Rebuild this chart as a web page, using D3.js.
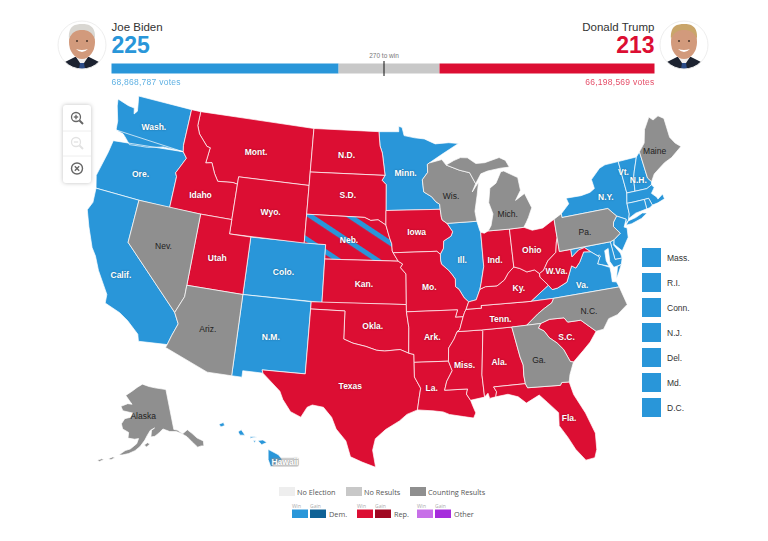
<!DOCTYPE html>
<html>
<head>
<meta charset="utf-8">
<script src="https://cdn.jsdelivr.net/npm/d3@7"></script>
<style>
  html, body { margin: 0; padding: 0; background: #fff; }
  text { font-family: "Liberation Sans", Arial, sans-serif; }
</style>
</head>
<body>
<div id="vis"></div>
<script>
// Electoral race values
const candidates = ["Joe Biden", "Donald Trump"];
const electoralVotes = [225, 213];
const popularVotes = ["68,868,787 votes", "66,198,569 votes"];
const totalVotes = 538;
const toWin = 270;

// Who holds each state
const demStates = ["WA", "OR", "CA", "CO", "NM", "MN", "IL", "NY", "VT", "NH", "MA", "RI", "CT", "NJ", "DE", "MD", "DC", "VA", "HI"];
const repStates = ["MT", "ID", "WY", "UT", "ND", "SD", "NE", "KS", "OK", "TX", "IA", "MO", "AR", "LA", "MS", "AL", "TN", "KY", "IN", "OH", "WV", "SC", "FL"];
const countingStates = ["NV", "AZ", "WI", "MI", "PA", "NC", "GA", "AK", "ME"];
const sideStates = ["Mass.", "R.I.", "Conn.", "N.J.", "Del.", "Md.", "D.C."];

// Map labels: abbreviation, lon, lat
const labelNames = ["Wash.", "Ore.", "Calif.", "Nev.", "Idaho", "Mont.", "Wyo.", "Utah", "Ariz.", "Colo.", "N.M.", "N.D.", "S.D.", "Neb.", "Kan.", "Okla.", "Texas", "Minn.", "Iowa", "Mo.", "Ark.", "La.", "Wis.", "Ill.", "Mich.", "Ind.", "Ohio", "Ky.", "Tenn.", "Miss.", "Ala.", "Ga.", "Fla.", "S.C.", "N.C.", "Va.", "W.Va.", "Pa.", "N.Y.", "Vt.", "N.H.", "Maine", "Alaska", "Hawaii"];
const labelLons = [-120.4, -120.5, -119.9, -116.8, -114.4, -109.7, -107.5, -111.8, -111.6, -105.7, -106.2, -100.5, -100.2, -99.9, -98.4, -97.55, -99.3, -94.5, -93.55, -92.55, -92.45, -92.65, -90.1, -89.45, -84.8, -86.45, -83.0, -84.6, -86.5, -89.85, -86.95, -83.65, -81.9, -81.1, -78.85, -79.0, -81.05, -77.9, -75.3, -73.1, -71.9, -69.6, -155.5, -154.6];
const labelLats = [47.2, 43.8, 36.7, 39.3, 43.3, 46.9, 42.9, 39.2, 34.3, 38.9, 34.3, 47.3, 44.5, 41.4, 38.4, 35.5, 31.3, 46.1, 42.0, 38.2, 34.7, 31.2, 44.4, 39.9, 42.8, 39.7, 40.1, 37.6, 35.6, 32.65, 32.7, 32.5, 28.2, 33.8, 35.3, 37.2, 38.45, 40.7, 42.8, 44.2, 43.4, 45.1, 64.0, 19.3];
const darkLabels = ["Nev.", "Ariz.", "Wis.", "Mich.", "Ga.", "N.C.", "Pa.", "Maine", "Alaska"];

// Legend entries
const statusNames = ["No Election", "No Results", "Counting Results"];
const statusColors = ["#eeeeee", "#c8c8c8", "#8f8f8f"];
const partyNames = ["Dem.", "Rep.", "Other"];
const winColors = ["#2996d9", "#dc0e33", "#c76fe8"];
const gainColors = ["#0f6296", "#a00822", "#a52cdc"];

// Shared borders, flat lon,lat lists
const columbia = [-116.92,45.99, -118.98,46.0, -119.3,45.93, -120.5,45.7, -121.2,45.65, -122.3,45.55, -122.8,45.9, -123.2,46.15, -124.0,46.27];
const snake = [-117.03,42, -117.03,43.8, -117.03,44.2, -117.2,44.45, -116.85,45.0, -116.47,45.6, -116.92,45.99];
const bitterroot = [-116.05,49, -116.05,48.0, -115.7,47.45, -114.7,46.7, -114.35,46.65, -114.5,45.55, -113.9,45.65, -113.45,44.95, -113.0,44.45, -111.5,44.55, -111.05,44.48];
const missouriNE = [-98.5,43, -97.9,42.8, -97.2,42.85, -96.45,42.49, -96.1,41.6, -95.9,41.2, -95.85,40.7, -95.77,40.58, -95.31,40];
const missouriKS = [-95.31,40, -94.9,39.8, -95.1,39.55, -94.61,39.11, -94.62,37];
const redRiver = [-100,34.56, -99.2,34.3, -98.1,34.1, -97.2,33.85, -96.5,33.8, -95.2,33.9, -94.48,33.64];
const stCroix = [-92.1,46.75, -92.29,46.66, -92.29,46.1, -92.85,45.6, -92.75,44.75, -92.0,44.4, -91.6,44.03, -91.25,43.85, -91.22,43.5];
const missIAWI = [-91.22,43.5, -91.15,42.95, -91.08,42.75, -90.64,42.5];
const missIAIL = [-90.64,42.5, -90.16,41.9, -90.34,41.6, -91.05,41.3, -91.1,40.8, -91.42,40.4];
const missMOIL = [-91.42,40.4, -91.42,39.93, -91.35,39.7, -90.73,39.25, -90.45,38.96, -90.18,38.63, -90.2,38.1, -89.9,37.9, -89.5,37.3, -89.13,37];
const missTN = [-89.4,36.5, -89.55,36.3, -89.7,36, -90.07,35.13, -90.3,35];
const missARMS = [-90.3,35, -90.6,34.5, -91.1,33.9, -91.17,33];
const missLAMS = [-91.17,33, -90.9,32.33, -91.4,31.6, -91.6,31, -89.73,31, -89.85,30.65, -89.55,30.2];
const ohioRiver = [-80.52,40.64, -80.65,40.4, -80.85,39.7, -81.7,39.2, -82.2,38.6, -82.6,38.42, -83.0,38.72, -83.7,38.65, -84.3,38.95, -84.82,39.1, -85.4,38.72, -85.8,38.28, -86.5,37.93, -87.55,37.95, -88.05,37.8];
const wabash = [-87.53,39.35, -87.9,38.2, -88.05,37.8, -88.45,37.1, -89.13,37];
const alGa = [-85.6,35, -85.18,32.87, -85,32.3, -85.05,31.55, -85,31];
const savannah = [-83.11,35, -83.35,34.7, -82.9,34.45, -82.55,33.95, -81.95,33.5, -81.5,33, -81.1,32.1, -80.85,32.03];
const ncSc = [-83.11,35, -82.3,35.2, -81.05,35.15, -80.8,34.82, -79.67,34.8, -78.55,33.86];
const tnNc = [-81.68,36.59, -81.9,36.3, -82.6,36, -83.2,35.7, -84.32,35];
const wvVa = [-77.72,39.32, -78.35,39.4, -78.87,38.75, -79.3,38.4, -79.65,38.6, -80.3,37.55, -81.2,37.25, -81.68,37.2, -81.97,37.54];
const potomac = [-77.0,38.3, -77.32,38.4, -77.04,38.79, -77.1,38.9, -77.72,39.32];
const northPotomac = [-77.72,39.32, -78.2,39.68, -78.75,39.6, -79.48,39.2, -79.48,39.72];
const delaware = [-75.35,42, -74.7,41.36, -75.1,41, -75.2,40.7, -74.72,40.15, -75.42,39.8];
const wiMi = [-90.4,46.55, -89.1,46.13, -88.1,45.9, -87.6,45.1];

const rev = a => { const out = []; for (let i = a.length - 2; i >= 0; i -= 2) out.push(a[i], a[i + 1]); return out; };

// State outlines (lon,lat), one list per ring
const stateRings = {
  WA: [[-122.76,49, -117.03,49, -117.04,46.42, ...columbia, -124.1,46.9, -124.6,47.9, -124.73,48.38, -123.5,48.15, -122.85,48.1, -122.7,47.7, -122.45,47.95, -122.6,48.5]],
  OR: [[...rev(columbia), -123.95,45.5, -124.1,44.6, -124.55,42.85, -124.21,42, -120,42, ...snake]],
  ID: [[-117.03,49, ...bitterroot, -111.05,42, -114.04,42, ...snake, -117.04,46.42]],
  MT: [[...bitterroot.slice(0, 2), -104.05,49, -104.05,45, -111.05,45, ...rev(bitterroot).slice(0, -2)]],
  WY: [[-111.05,45, -104.05,45, -104.05,41, -111.05,41]],
  UT: [[-114.04,42, -111.05,42, -111.05,41, -109.05,41, -109.05,37, -114.05,37]],
  CO: [[-109.05,41, -102.05,41, -102.05,37, -109.05,37]],
  NM: [[-109.05,37, -103,37, -103.05,32, -106.62,32, -106.53,31.78, -108.2,31.78, -108.2,31.33, -109.05,31.33]],
  AZ: [[-114.05,37, -109.05,37, -109.05,31.33, -111.07,31.33, -114.81,32.5, -114.72,32.72, -114.5,33.4, -114.15,34.27, -114.63,35, -114.05,36.2]],
  NV: [[-120,42, -114.04,42, -114.05,37, -114.05,36.2, -114.63,35, -120,39]],
  CA: [[-124.21,42, -120,42, -120,39, -114.63,35, -114.15,34.27, -114.5,33.4, -114.72,32.72, -117.12,32.53, -117.3,33, -118.4,33.75, -119.2,34.15, -120.6,34.55, -120.65,35.15, -121.9,36.6, -122.5,37.5, -123,38, -123.8,39.3, -124.4,40.4, -124.1,41]],
  ND: [[-104.05,49, -97.23,49, -97.1,48, -96.85,47.5, -96.56,45.94, -104.05,45.94]],
  SD: [[-104.05,45.94, -96.56,45.94, -96.85,45.6, -96.45,45.3, -96.45,43.5, -96.45,42.49, -97.2,42.85, -97.9,42.8, -98.5,43, -104.05,43]],
  NE: [[-104.05,43, ...missouriNE, -102.05,40, -102.05,41, -104.05,41]],
  KS: [[-102.05,40, ...missouriKS, -102.05,37]],
  OK: [[-103,37, -94.62,37, -94.62,36.5, -94.43,35.4, ...rev(redRiver), -100,36.5, -103,36.5]],
  TX: [[-103,36.5, -100,36.5, ...redRiver, -94.04,33.55, -94.04,33, -94.04,31.99, -93.55,31.2, -93.7,30.5, -93.85,29.7, -94.7,29.4, -95.3,28.95, -96.4,28.35, -97.2,27.7, -97.4,26.9, -97.15,25.7, -98.2,26.05, -99.1,26.4, -99.5,27.5, -100.3,28.3, -100.7,29.1, -101.4,29.77, -102.3,29.88, -102.7,29.7, -103.15,28.98, -104,29.3, -104.7,30.1, -105,30.65, -106.53,31.78, -106.62,32, -103.05,32]],
  MN: [[-97.23,49, -95.15,49, -95.15,49.38, -94.8,49.3, -94.6,48.72, -93.5,48.55, -92.5,48.45, -91.4,48.07, -90,48.1, -89.0,48, -90.8,47.3, ...stCroix, -96.45,43.5, -96.45,45.3, -96.85,45.6, -96.56,45.94, -96.85,47.5, -97.1,48]],
  IA: [[-96.45,43.5, ...missIAWI, ...missIAIL, -91.73,40.61, -95.77,40.58, -95.85,40.7, -95.9,41.2, -96.1,41.6, -96.45,42.49]],
  MO: [[-95.77,40.58, -91.73,40.61, ...missMOIL, ...missTN.slice(0, 6), -90.37,36, -90.15,36.5, -94.62,36.5, ...rev(missouriKS)]],
  AR: [[-94.62,36.5, -90.15,36.5, -90.37,36, -89.7,36, -90.07,35.13, ...missARMS, -94.04,33, -94.04,33.55, -94.48,33.64, -94.43,35.4]],
  LA: [[-94.04,33, ...missLAMS, -89.4,29.8, -89.2,29.3, -89.4,28.95, -90.2,29.1, -91.3,29.3, -91.8,29.5, -92.6,29.6, -93.85,29.7, -93.7,30.5, -93.55,31.2, -94.04,31.99]],
  MS: [[-90.3,35, -88.2,35, -88.1,34.9, -88.47,31.9, -88.4,30.35, ...rev(missLAMS), ...rev(missARMS).slice(2)]],
  AL: [[-88.2,35, ...alGa, -87.6,31, -87.4,30.65, -87.5,30.3, -88,30.23, -88.1,30.6, -88.4,30.35, -88.47,31.9, -88.1,34.9]],
  GA: [[...alGa.slice(0, 2), ...savannah, -81.3,31.2, -81.45,30.71, -82.05,30.75, -82.2,30.57, -84.86,30.7, ...rev(alGa)]],
  FL: [[-87.6,31, -85,31, -84.86,30.7, -82.2,30.57, -82.05,30.75, -81.45,30.71, -81.25,29.8, -80.55,28.4, -80.05,26.9, -80.15,25.75, -80.4,25.2, -81.1,25.13, -81.75,26, -82.2,26.9, -82.75,27.8, -82.65,28.7, -83.4,29.5, -84,30.1, -85.1,29.65, -85.7,30.15, -86.5,30.4, -87.5,30.3, -87.4,30.65]],
  SC: [[...ncSc, -79.2,33.2, -79.9,32.7, ...rev(savannah).slice(0, -2)]],
  NC: [[-84.32,35, ...ncSc, -77.9,33.9, -77.3,34.55, -76.5,34.7, -75.5,35.25, -75.85,36.55, ...tnNc]],
  TN: [[...missTN.slice(0, 2), -88.05,36.5, -88.07,36.68, -83.68,36.6, ...tnNc, -85.6,35, -88.2,35, ...rev(missTN).slice(0, -2)]],
  KY: [[-82.6,38.42, -83,38.72, -83.7,38.65, -84.3,38.95, -84.82,39.1, -85.4,38.72, -85.8,38.28, -86.5,37.93, -87.55,37.95, -88.05,37.8, -88.45,37.1, -89.13,37, -89.4,36.5, -88.05,36.5, -88.07,36.68, -83.68,36.6, -81.97,37.54, -82.6,38.17]],
  VA: [[-83.68,36.6, -81.68,36.59, -75.85,36.55, -76,36.93, -76.35,37, -76.3,37.6, -76.3,38, ...potomac, ...wvVa],
       [-75.95,37.12, -75.6,37.55, -75.25,38.03, -75.62,37.95]],
  WV: [[-80.52,40.64, -80.52,39.72, -79.48,39.72, ...rev(northPotomac).slice(2), ...wvVa.slice(2), -82.6,38.17, -82.6,38.42, -82.2,38.6, -81.7,39.2, -80.85,39.7, -80.65,40.4]],
  MD: [[-79.48,39.72, -75.79,39.72, -75.7,38.46, -75.05,38.45, -75.25,38.03, -75.95,37.95, -76.2,38.4, -76.1,39.3, -76.45,39.2, -76.5,38.5, -76.35,38.1, ...potomac, ...northPotomac.slice(2, -2)]],
  DE: [[-75.79,39.72, -75.42,39.8, -75.55,39.45, -75.1,38.8, -75.05,38.45, -75.7,38.46]],
  DC: [[-77.12,38.93, -77.04,39, -76.91,38.89, -77.04,38.79]],
  PA: [[-80.52,41.98, -79.76,42.27, -79.76,42, ...delaware, -75.79,39.72, -80.52,39.72]],
  NJ: [[-74.7,41.36, -73.9,41, -74.25,40.5, -74,40.4, -74.1,39.75, -74.9,38.93, -75.5,39.5, -75.42,39.8, -74.72,40.15, -75.2,40.7, -75.1,41]],
  NY: [[-79.76,42.27, -79.76,42, -75.35,42, -74.7,41.36, -73.9,41, -74,40.7, -73.75,40.88, -73.65,41, -73.5,41.3, -73.48,42.05, -73.26,42.75, -73.35,45.01, -74.7,45, -75.3,44.85, -76.3,44.2, -76.2,43.55, -76.7,43.35, -77.6,43.25, -79.05,43.27, -78.9,42.85],
       [-74.03,40.6, -73.75,40.85, -73,40.95, -72.3,41.15, -71.87,41.07, -72.5,40.8, -73.5,40.6]],
  CT: [[-73.65,41, -73.5,41.3, -73.48,42.05, -72.8,42.03, -71.8,42.02, -71.8,41.35, -72.9,41.25]],
  RI: [[-71.8,42.02, -71.38,42.02, -71.2,41.5, -71.5,41.37, -71.8,41.35]],
  MA: [[-73.48,42.05, -73.26,42.75, -72.46,42.73, -71.3,42.7, -70.8,42.87, -70.6,42.65, -71,42.3, -70.6,41.95, -70.55,41.8, -70,42.05, -69.95,41.7, -70.65,41.55, -71.2,41.5, -71.38,42.02, -71.8,42.02, -72.8,42.03]],
  VT: [[-73.26,42.75, -72.46,42.73, -72.3,43.6, -72.05,44.1, -71.5,45.01, -73.35,45.01]],
  NH: [[-72.46,42.73, -71.3,42.7, -70.8,42.87, -70.7,43.08, -70.98,43.4, -71.08,45.3, -71.5,45.01, -72.05,44.1, -72.3,43.6]],
  ME: [[-70.7,43.08, -70.98,43.4, -71.08,45.3, -70.4,45.8, -70,46.7, -69.23,47.46, -68.9,47.18, -68.3,47.36, -67.8,47.07, -67.8,45.7, -67.45,45.2, -67,44.85, -68.2,44.3, -69,44.1, -69.8,43.75, -70.25,43.55]],
  OH: [[-84.82,39.1, -84.81,41.73, -83.45,41.73, -82.7,41.45, -81.7,41.5, -80.52,41.98, ...ohioRiver.slice(0, 20)]],
  IN: [[-87.53,41.72, -87.2,41.63, -86.82,41.76, -84.81,41.73, ...ohioRiver.slice(18), ...rev(wabash).slice(4)]],
  IL: [[-90.64,42.5, -87.8,42.5, -87.6,41.85, -87.53,41.72, ...wabash, ...rev(missMOIL).slice(2), ...rev(missIAIL).slice(2, -2)]],
  WI: [[-92.1,46.75, -90.8,46.95, ...wiMi, -88,44.55, -87.3,45.2, -87.55,44.3, -87.9,43.2, -87.8,42.5, -90.64,42.5, ...rev(missIAWI).slice(2), ...rev(stCroix).slice(2)]],
  MI: [[-86.82,41.76, -86.5,42.1, -86.2,42.9, -86.5,43.7, -86.25,44.7, -85.6,45, -85,45.75, -84.7,45.78, -83.4,45.2, -83.3,44.3, -83.9,43.65, -82.95,44.05, -82.45,43, -82.9,42.35, -83.15,42.05, -83.45,41.73, -84.81,41.73],
       [...wiMi, -87,45.75, -86.3,45.9, -85,46, -84.1,46, -84.4,46.5, -85,46.75, -86.5,46.5, -87.4,46.5, -88.2,46.95, -88.9,47, -89.6,46.83]],
  AK: [[-141,69.65, -141,60.3, -139.5,60, -137.5,58.9, -135,59.5, -133.5,58.4, -132,57, -130,55.9, -130.5,54.8, -131.5,55, -133,55, -134.5,56.5, -136,58, -138,59, -140,59.7, -143,60, -146,60.8, -148,60, -150,59.3, -151.8,59.2, -151.4,60.7, -149.9,61.2, -152,60.7, -153.5,59.5, -154.5,58.5, -156.5,57, -158.5,56, -161,55.2, -163.5,54.7, -164.8,54.6, -162.5,55.8, -160.5,56.3, -158,57.6, -157.3,58.8, -159,58.6, -162,58.7, -162,60, -165,60.6, -166,61.7, -164.8,63, -162,63.5, -161,64.5, -163,64.6, -166.5,64.7, -168,65.6, -164.5,66.5, -162,66.5, -163.5,67.1, -166.5,68.3, -163,69.5, -160,70.5, -156.5,71.35, -152,70.8, -148,70.4, -144,70],
       [-154.7,57.4, -153.4,57.9, -152.3,57.6, -153.8,56.9],
       [-168.5,53.3, -167,53.9, -166,53.8, -167.5,53.2],
       [-172.5,52.3, -171,52.9, -170,52.9, -171.5,52.2]],
  HI: [[-155.9,20.25, -155.1,19.85, -154.8,19.5, -155.7,18.95, -155.9,19.5],
       [-156.7,20.9, -156.3,20.95, -156,20.75, -156.4,20.6],
       [-158.25,21.55, -158,21.7, -157.7,21.3, -158.1,21.3],
       [-159.75,22.1, -159.4,22.23, -159.3,22, -159.6,21.9],
       [-157.3,21.2, -156.75,21.17, -157.3,21.08],
       [-157.05,20.9, -156.85,20.88, -156.95,20.73]]
};

const width = 768, height = 541;
const BLUE = "#2996d9", RED = "#dc0e33", GREY = "#8f8f8f", BAR_GREY = "#c8c8c8";

const svg = d3.select("#vis").append("svg")
  .attr("viewBox", [0, 0, width, height])
  .attr("width", width)
  .attr("height", height)
  .style("display", "block");

// Projections
const lower48 = d3.geoAlbers().scale(823).translate([384, 280]);
const alaska = d3.geoConicEqualArea().rotate([154, 0]).center([0, 64]).parallels([55, 65]).scale(250).translate([146, 416]);
const hawaii = d3.geoConicEqualArea().rotate([157, 0]).center([0, 20.5]).parallels([8, 18]).scale(780).translate([254, 446]);
const projFor = s => s === "AK" ? alaska : s === "HI" ? hawaii : lower48;

const toFeature = s => {
  const rings = stateRings[s].map(flat => {
    const ring = d3.pairs(flat).filter((_, i) => i % 2 === 0).map(p => [p[0], p[1]]);
    ring.push(ring[0]);
    return ring;
  });
  const feature = { type: "Feature", id: s, geometry: { type: "MultiPolygon", coordinates: rings.map(r => [r]) } };
  // d3 cares about winding, flip any ring that came out inside-out
  feature.geometry.coordinates.forEach(poly => {
    if (d3.geoArea({ type: "Polygon", coordinates: poly }) > 2 * Math.PI) poly[0].reverse();
  });
  return feature;
};

const fillFor = s => {
  if (s === "NE") return "url(#neb)";
  if (demStates.includes(s)) return BLUE;
  if (repStates.includes(s)) return RED;
  return GREY;
};

// Nebraska splits its votes, so stripes
const pattern = svg.append("defs").append("pattern")
  .attr("id", "neb")
  .attr("patternUnits", "userSpaceOnUse")
  .attr("width", 21.5).attr("height", 21.5)
  .attr("patternTransform", "translate(313.4,214.9) rotate(33.5)");
pattern.append("rect").attr("width", 21.5).attr("height", 21.5).attr("fill", RED);
pattern.append("rect").attr("width", 21.5).attr("height", 5).attr("fill", BLUE);

const allStates = [...demStates, ...repStates, ...countingStates];
svg.append("g").selectAll("path")
  .data(allStates.map(toFeature))
  .join("path")
  .attr("d", d => d3.geoPath(projFor(d.id))(d))
  .attr("fill", d => fillFor(d.id))
  .attr("stroke", "#fff")
  .attr("stroke-width", 0.7)
  .attr("stroke-linejoin", "round");

// Hawaii label has a little grey plate behind it
const hawaiiAt = hawaii([labelLons[labelNames.indexOf("Hawaii")], labelLats[labelNames.indexOf("Hawaii")]]);
svg.append("rect")
  .attr("x", hawaiiAt[0] - 14).attr("y", hawaiiAt[1] - 4.5)
  .attr("width", 28).attr("height", 9).attr("rx", 2)
  .attr("fill", "#999").attr("opacity", 0.45);

svg.append("g").selectAll("text")
  .data(labelNames)
  .join("text")
  .attr("transform", (d, i) => {
    const p = (d === "Alaska" ? alaska : d === "Hawaii" ? hawaii : lower48)([labelLons[i], labelLats[i]]);
    return `translate(${p[0]},${p[1]})`;
  })
  .attr("text-anchor", "middle")
  .attr("dy", "0.35em")
  .attr("font-size", 8.5)
  .attr("font-weight", d => darkLabels.includes(d) ? 400 : 700)
  .attr("fill", d => darkLabels.includes(d) ? "#222" : "#fff")
  .style("text-shadow", d => darkLabels.includes(d) ? "none" : "0 0 2px rgba(0,0,0,.35)")
  .text(d => d);

// Small states column
const sideY = d3.scalePoint().domain(sideStates).range([248, 398]);
const side = svg.append("g").selectAll("g").data(sideStates).join("g")
  .attr("transform", d => `translate(642,${sideY(d)})`);
side.append("rect").attr("width", 19).attr("height", 19).attr("fill", BLUE);
side.append("text").attr("x", 25).attr("y", 13).attr("font-size", 8.5).attr("fill", "#333").text(d => d);

// Top bar
const x = d3.scaleLinear().domain([0, totalVotes]).range([111.5, 654.5]);
const barSegments = [
  { from: 0, to: electoralVotes[0], color: BLUE },
  { from: electoralVotes[0], to: totalVotes - electoralVotes[1], color: BAR_GREY },
  { from: totalVotes - electoralVotes[1], to: totalVotes, color: RED }
];
svg.append("g").selectAll("rect").data(barSegments).join("rect")
  .attr("x", d => x(d.from))
  .attr("width", d => x(d.to) - x(d.from))
  .attr("y", 63.5).attr("height", 10)
  .attr("fill", d => d.color);
svg.append("line")
  .attr("x1", x(toWin)).attr("x2", x(toWin))
  .attr("y1", 61).attr("y2", 76)
  .attr("stroke", "#111").attr("stroke-width", 1);
svg.append("text").attr("x", x(toWin)).attr("y", 58)
  .attr("text-anchor", "middle").attr("font-size", 6.5).attr("fill", "#777")
  .text(`${toWin} to win`);

const headerX = [x(0), x(totalVotes)];
const headerAnchor = ["start", "end"];
const headerColor = [BLUE, RED];
candidates.forEach((name, i) => {
  svg.append("text").attr("x", headerX[i]).attr("y", 31)
    .attr("text-anchor", headerAnchor[i]).attr("font-size", 11.5).attr("fill", "#333").text(name);
  svg.append("text").attr("x", headerX[i]).attr("y", 52.5)
    .attr("text-anchor", headerAnchor[i]).attr("font-size", 23).attr("font-weight", 700)
    .attr("fill", headerColor[i]).text(electoralVotes[i]);
  svg.append("text").attr("x", headerX[i]).attr("y", 85)
    .attr("text-anchor", headerAnchor[i]).attr("font-size", 8.5).attr("letter-spacing", 0.25)
    .attr("fill", headerColor[i]).attr("opacity", 0.75).text(popularVotes[i]);
});

// Portraits
function portrait(cx, cy, id, hair, tie) {
  const g = svg.append("g").attr("transform", `translate(${cx},${cy})`);
  g.append("clipPath").attr("id", id).append("circle").attr("r", 24);
  const c = g.append("g").attr("clip-path", `url(#${id})`);
  c.append("path").attr("d", "M-19,24 L-17,17 L-7,12 L7,12 L17,17 L19,24 Z").attr("fill", "#1c2230");
  c.append("path").attr("d", "M-6,12 L0,21 L6,12 Z").attr("fill", "#f1efee");
  c.append("path").attr("d", "M-2,18 L2,18 L3,24 L-3,24 Z").attr("fill", tie);
  c.append("ellipse").attr("cy", -3).attr("rx", 13).attr("ry", 17).attr("fill", "#d29a7c");
  c.append("path").attr("d", "M-13,-6 C-14,-20 -6,-21 0,-21 C7,-21 14,-19 13,-6 C10,-13 6,-15 0,-15 C-6,-15 -10,-13 -13,-6 Z").attr("fill", hair);
  c.append("path").attr("d", "M-6,4 Q0,10 6,4 Q0,6 -6,4 Z").attr("fill", "#fff");
  c.append("circle").attr("cx", -5).attr("cy", -4).attr("r", 1).attr("fill", "#4a3328");
  c.append("circle").attr("cx", 5).attr("cy", -4).attr("r", 1).attr("fill", "#4a3328");
  g.append("circle").attr("r", 24).attr("fill", "none").attr("stroke", "#eee");
}
portrait(82, 45, "clipBiden", "#d9d7d2", "#2a4a86");
portrait(684, 45, "clipTrump", "#c9a56a", "#2a4a86");

// Zoom buttons
const zoomBox = svg.append("g").attr("transform", "translate(63,105)");
zoomBox.append("rect").attr("width", 28).attr("height", 78).attr("rx", 3)
  .attr("fill", "#fff").style("filter", "drop-shadow(0 0 2px rgba(0,0,0,.25))");
zoomBox.append("line").attr("x1", 0).attr("x2", 28).attr("y1", 26).attr("y2", 26).attr("stroke", "#eee");
zoomBox.append("line").attr("x1", 0).attr("x2", 28).attr("y1", 51).attr("y2", 51).attr("stroke", "#eee");
[["#666", 13, true], ["#e2e2e2", 38, false]].forEach(([c, cy, plus]) => {
  const g = zoomBox.append("g").attr("stroke", c).attr("fill", "none").attr("stroke-width", 1.3);
  g.append("circle").attr("cx", 13).attr("cy", cy - 1).attr("r", 4.5);
  g.append("line").attr("x1", 16.5).attr("y1", cy + 2.5).attr("x2", 20).attr("y2", cy + 6).attr("stroke-width", 2);
  g.append("line").attr("x1", 10.8).attr("x2", 15.2).attr("y1", cy - 1).attr("y2", cy - 1);
  if (plus) g.append("line").attr("x1", 13).attr("x2", 13).attr("y1", cy - 3.2).attr("y2", cy + 1.2);
});
const close = zoomBox.append("g").attr("stroke", "#666").attr("fill", "none").attr("stroke-width", 1.4);
close.append("circle").attr("cx", 14).attr("cy", 63.5).attr("r", 5.5);
close.append("line").attr("x1", 11.8).attr("x2", 16.2).attr("y1", 61.3).attr("y2", 65.7);
close.append("line").attr("x1", 16.2).attr("x2", 11.8).attr("y1", 61.3).attr("y2", 65.7);

// Legend, first row
const legendFont = "'Open Sans', sans-serif";
const statusX = d3.scaleOrdinal().domain(statusNames).range([279, 346, 410]);
const statusG = svg.append("g").selectAll("g").data(statusNames).join("g")
  .attr("transform", d => `translate(${statusX(d)},487)`);
statusG.append("rect").attr("width", 16).attr("height", 9).attr("fill", (d, i) => statusColors[i]);
statusG.append("text").attr("x", 18).attr("y", 7.5).attr("font-size", 7.3)
  .style("font-family", legendFont).attr("fill", "#555").text(d => d);

// Legend, second row
const partyX = d3.scaleOrdinal().domain(partyNames).range([292, 357, 417]);
const partyG = svg.append("g").selectAll("g").data(partyNames).join("g")
  .attr("transform", d => `translate(${partyX(d)},509.5)`);
partyG.append("rect").attr("width", 16).attr("height", 8.5).attr("fill", (d, i) => winColors[i]);
partyG.append("rect").attr("x", 18).attr("width", 16).attr("height", 8.5).attr("fill", (d, i) => gainColors[i]);
partyG.append("text").attr("y", -2).attr("font-size", 5).style("font-family", legendFont).attr("fill", "#aaa").text("Win");
partyG.append("text").attr("x", 18).attr("y", -2).attr("font-size", 5).style("font-family", legendFont).attr("fill", "#aaa").text("Gain");
partyG.append("text").attr("x", 37).attr("y", 7).attr("font-size", 7.3)
  .style("font-family", legendFont).attr("fill", "#555").text(d => d);
</script>
</body>
</html>
